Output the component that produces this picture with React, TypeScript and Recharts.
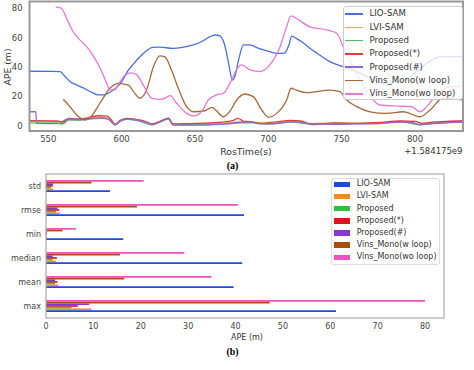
import React from "react";
import { LineChart, Line, BarChart, Bar, XAxis, YAxis } from "recharts";

// ---- (a) APE over time, [rosTime - 1.584175e9, APE m] ----
const lioSamApe = [
  [537, 37.1], [552, 37], [558, 36.8], [561, 34], [565, 30], [570, 27.5], [575, 25.2],
  [580, 22.5], [584, 21], [588, 21], [592, 22.8], [596, 25.5], [600, 30], [604, 37],
  [608, 42], [613, 47.5], [617, 51], [621, 53.4], [626, 53.5], [635, 52.7], [642, 53.5],
  [649, 55], [655, 57.5], [660, 60.5], [664, 61.8], [667, 61.2], [669, 58.5], [671, 52],
  [673, 42], [675.5, 31], [677, 33], [680, 46], [683, 55], [687, 55], [694, 52.5],
  [701, 50.4], [706, 49.3], [711, 49.5], [714, 55], [716, 61], [719, 59.5], [723, 57],
  [728, 53], [733, 49.5], [742, 43.6], [751, 40.2], [760, 37], [770, 32], [780, 29],
  [790, 30], [800, 36], [810, 44], [818, 47], [833, 47],
];
const lviSamApe = [
  [537, 3.0], [556, 2.8], [560, 2.0], [564, 4.2], [570, 4.0], [578, 5.0], [586, 5.8],
  [592, 4.4], [595.5, 0.8], [599, 3.4], [604, 4.8], [610, 4.0], [621, 1.0], [626, 2.8],
  [632, 5.0], [635, 1.0], [650, 1.2], [670, 1.8], [680, 2.6], [690, 2.2], [700, 1.4],
  [715, 3.0], [730, 1.6], [750, 1.8], [770, 1.8], [790, 3.0], [803, 1.0], [815, 2.4],
  [833, 3.0],
];
const proposedApe = [
  [537, 2.0], [556, 2.0], [560, 1.2], [564, 4.0], [570, 3.8], [578, 4.6], [586, 5.0],
  [592, 4.0], [595.5, 0.4], [599, 3.0], [604, 4.4], [610, 3.6], [621, 0.6], [626, 2.4],
  [632, 4.6], [635, 0.6], [650, 0.6], [670, 1.2], [680, 2.0], [690, 2.0], [700, 1.2],
  [715, 2.4], [730, 1.2], [750, 1.4], [770, 1.4], [790, 2.6], [803, 0.8], [815, 2.0],
  [833, 2.6],
];
const proposedStarApe = [
  [537, 3.4], [556, 3.2], [559, 2.6], [564, 5.0], [570, 4.6], [578, 5.6], [584, 6.8],
  [590, 6.6], [593, 4.0], [595.5, 1.0], [599, 3.6], [604, 5.0], [610, 4.2], [616, 3.0],
  [621, 1.2], [626, 3.0], [632, 5.2], [635, 1.2], [645, 1.4], [660, 2.0], [672, 2.8],
  [676, 3.6], [679.5, 5.0], [683, 3.0], [688, 2.8], [694, 1.6], [705, 2.6], [715, 3.6],
  [722, 3.2], [730, 0.8], [738, 1.2], [745, 2.0], [760, 1.6], [775, 2.2], [790, 3.2],
  [800, 3.0], [805, 1.6], [812, 2.4], [822, 3.0], [833, 3.4],
];
const proposedHashApe = [
  [537, 9.5], [541.5, 9.5], [542, 1.6], [559, 1.4], [564, 4.6], [570, 4.2], [578, 4.8],
  [586, 5.4], [591, 4.4], [595.5, 0.6], [599, 3.2], [604, 4.6], [610, 3.8], [616, 2.6],
  [621, 0.8], [626, 2.6], [632, 4.8], [635, 0.6], [645, 0.4], [660, 0.6], [672, 1.2],
  [680, 2.2], [688, 2.6], [694, 1.2], [705, 1.4], [715, 2.6], [722, 2.4], [730, 1.2],
  [745, 1.0], [760, 1.2], [775, 1.4], [790, 2.4], [798, 2.2], [803, 0.6], [812, 1.4],
  [822, 2.0], [833, 2.4],
];
const vinsLoopApe = [
  [560.2, 18], [564.8, 13], [569.4, 7.3], [575, 3.9], [578, 5], [585.2, 15.3], [592, 25.5],
  [597.7, 28.9], [604.5, 27.7], [609, 22], [612.5, 18.7], [617, 24.3], [621.6, 40],
  [626, 47.5], [629.3, 47], [634, 38], [638.6, 25.5], [644.3, 13], [648.9, 9.5],
  [656.8, 10.2], [661.4, 12.5], [664.8, 10], [669.3, 6.1], [673.9, 10], [678.4, 17.5],
  [684, 21.6], [689.7, 19.8], [695.5, 10.7], [700, 5.7], [705.7, 8.4], [712.5, 17.5],
  [715.5, 25.5], [719, 24.3], [726, 22.5], [742, 24.3], [748.8, 23.2], [753.4, 17.5],
  [760.2, 13], [769.3, 9.5], [780.6, 8.4], [792, 9.5], [803.4, 6.1], [810.2, 10.7],
  [819, 18.7], [833, 17.5],
];
const vinsNoLoopApe = [
  [555.2, 80.7], [559, 80], [562.5, 73], [567, 64], [571, 59], [576, 54], [581, 47],
  [585, 40], [589.8, 29], [592, 24.3], [595, 24.5], [599, 30], [602.3, 34.5], [606.8, 36],
  [610, 35], [614.8, 27.7], [620.5, 18.7], [626, 18], [630, 19], [633, 20.5], [637.5, 15.3],
  [644.3, 8.4], [648.9, 6.6], [653.4, 8.4], [656, 12], [659, 17.5], [664.8, 21],
  [669.3, 22], [673.9, 29], [679.5, 40], [681.8, 41.4], [687.5, 38], [694.3, 36.8],
  [701, 41.4], [708, 53.8], [712.5, 67.5], [715.5, 74.8], [719, 73.2], [728, 67.5],
  [739.8, 65.2], [746.6, 63], [751, 53.8], [760, 35.7], [768, 22], [776, 14.1],
  [787.5, 13.4], [797.7, 13], [803.4, 9.5], [808, 13], [814.7, 21], [824, 26.6], [833, 27],
];
const timeTicks = [550, 600, 650, 700, 750, 800];
const apeTicks = [0, 20, 40, 60, 80];

// ---- (b) APE statistics ----
const stats = ["std", "rmse", "min", "median", "mean", "max"];
const lioSamStats = [13.5, 41.8, 16.3, 41.4, 39.6, 61.2];
const lviSamStats = [1.5, 2.9, 0.2, 2.1, 2.6, 9.6];
const proposedStats = [1.0, 2.1, 0.1, 1.4, 1.9, 5.4];
const proposedStarStats = [1.4, 2.8, 0.2, 2.3, 2.4, 6.7];
const proposedHashStats = [1.5, 2.4, 0.2, 1.4, 1.9, 9.1];
const vinsLoopStats = [9.6, 19.2, 3.5, 15.6, 16.5, 47.2];
const vinsNoLoopStats = [20.6, 40.5, 6.3, 29.2, 34.9, 80.0];
const statTicks = [0, 10, 20, 30, 40, 50, 60, 70, 80];

const names = [
  "LIO-SAM", "LVI-SAM", "Proposed", "Proposed(*)", "Proposed(#)",
  "Vins_Mono(w loop)", "Vins_Mono(wo loop)",
];
const keys = ["lio", "lvi", "prop", "star", "hash", "vinsW", "vinsWo"];
const lineColors = ["#4a6ee0", "#f5a25a", "#4cc060", "#e8383a", "#9466d8", "#a8683a", "#e678d6"];
const barColors = ["#1d48e2", "#ff8a1a", "#2ec040", "#e6101c", "#8a35d6", "#a4500c", "#f050c0"];

const lineSeries = [lioSamApe, lviSamApe, proposedApe, proposedStarApe, proposedHashApe, vinsLoopApe, vinsNoLoopApe]
  .map((s) => s.map(([t, v]) => ({ t, v })));

const statSeries = [lioSamStats, lviSamStats, proposedStats, proposedStarStats, proposedHashStats, vinsLoopStats, vinsNoLoopStats];
const statRows = stats.map((stat, i) => {
  const row: Record<string, string | number> = { stat };
  keys.forEach((k, j) => (row[k] = statSeries[j][i]));
  return row;
});

const font = "DejaVu Sans";
const tickStyle = { fontSize: 8.5, fill: "#444", fontFamily: font };
const tickStyleB = { fontSize: 8, fill: "#444", fontFamily: font };

const abs = (s: React.CSSProperties): React.CSSProperties => ({ position: "absolute", whiteSpace: "nowrap", ...s });

export default function App() {
  return (
    <div style={{ position: "absolute", left: 0, top: 0, width: 474, height: 370, background: "#fff", fontFamily: font, color: "#333" }}>
      <div style={abs({ left: 0, top: 0 })}>
        <LineChart width={474} height={160} margin={{ top: 1.5, right: 11, left: 0, bottom: 0 }}>
          <XAxis
            dataKey="t" type="number" domain={[537.2, 832.7]} ticks={timeTicks} allowDataOverflow
            height={29} tickLine={false} axisLine={false} tickSize={3} tickMargin={2} tick={tickStyle}
          />
          <YAxis
            type="number" domain={[-3.6, 84.6]} ticks={apeTicks} allowDataOverflow
            width={29.5} tickLine={false} axisLine={false} tickSize={4} tickMargin={2.8} tick={tickStyle}
          />
          {lineSeries.map((d, i) => (
            <Line
              key={keys[i]} data={d} dataKey="v" type="monotone" stroke={lineColors[i]}
              strokeWidth={1.3} dot={false} isAnimationActive={false}
            />
          ))}
        </LineChart>
      </div>

      <div style={abs({ left: 0, top: 160 })}>
        <BarChart
          width={474} height={200} data={statRows} layout="vertical"
          margin={{ top: 14, right: 30, left: 0, bottom: 0 }} barSize={1.7} barGap={0}
        >
          <XAxis
            type="number" domain={[0, 84]} ticks={statTicks} allowDataOverflow
            height={42} tickLine={false} axisLine={false} tickSize={3} tickMargin={2.5} tick={tickStyleB}
          />
          <YAxis
            type="category" dataKey="stat" width={46}
            tickLine={false} axisLine={false} tickSize={3} tickMargin={2} tick={tickStyleB}
          />
          {keys.slice().reverse().map((k) => {
            const i = keys.indexOf(k);
            return <Bar key={k} dataKey={k} fill={barColors[i]} isAnimationActive={false} />;
          })}
        </BarChart>
      </div>

      <svg width={474} height={370} style={abs({ left: 0, top: 0, pointerEvents: "none" })}>
        <rect x={29.5} y={1.5} width={433.5} height={129.5} fill="none" stroke="#999" strokeWidth={2} />
        <rect x={46} y={174} width={398} height={144} fill="none" stroke="#aaa" strokeWidth={1.2} />
      </svg>

      {/* legend (a) */}
      <div
        style={abs({
          left: 342.7, top: 6, width: 120, height: 94, background: "rgba(255,255,255,0.8)",
          border: "1px solid #ccc", borderRadius: 3, boxSizing: "border-box",
        })}
      />
      {names.map((n, i) => (
        <div key={n} style={abs({ left: 345, top: 7.4 + i * 13.3, height: 13.3, display: "flex", alignItems: "center" })}>
          <div style={{ width: 18, height: 1.5, background: lineColors[i] }} />
          <span style={{ marginLeft: 6.5, fontSize: 8.6, color: "#333", lineHeight: "13.3px" }}>{n}</span>
        </div>
      ))}

      {/* legend (b) */}
      <div
        style={abs({
          left: 330.7, top: 178.3, width: 109.3, height: 86.7, background: "rgba(255,255,255,0.8)",
          border: "1px solid #ddd", borderRadius: 3, boxSizing: "border-box",
        })}
      />
      {names.map((n, i) => (
        <div key={n} style={abs({ left: 334.3, top: 178.2 + i * 12.17, height: 12.17, display: "flex", alignItems: "center" })}>
          <div style={{ width: 15.7, height: 5.5, background: barColors[i] }} />
          <span style={{ marginLeft: 6.7, fontSize: 8, color: "#333", lineHeight: "12.17px" }}>{n}</span>
        </div>
      ))}

      {/* axis texts */}
      <div style={abs({ left: 7, top: 66.5, fontSize: 9.3, transform: "translate(-50%, -50%) rotate(-90deg)" })}>APE (m)</div>
      <div style={abs({ left: 246, top: 150.7, fontSize: 9.3, transform: "translate(-50%, -50%)" })}>RosTime(s)</div>
      <div style={abs({ right: 474 - 462.5, top: 150.7, fontSize: 8.5, transform: "translateY(-50%)" })}>+1.584175e9</div>
      <div style={abs({ left: 232.5, top: 165, fontSize: 10, fontWeight: "bold", fontFamily: "Liberation Serif", color: "#000", transform: "translate(-50%, -50%)" })}>(a)</div>
      <div style={abs({ left: 247, top: 337, fontSize: 8, transform: "translate(-50%, -50%)" })}>APE (m)</div>
      <div style={abs({ left: 232.5, top: 351, fontSize: 10, fontWeight: "bold", fontFamily: "Liberation Serif", color: "#000", transform: "translate(-50%, -50%)" })}>(b)</div>
    </div>
  );
}
